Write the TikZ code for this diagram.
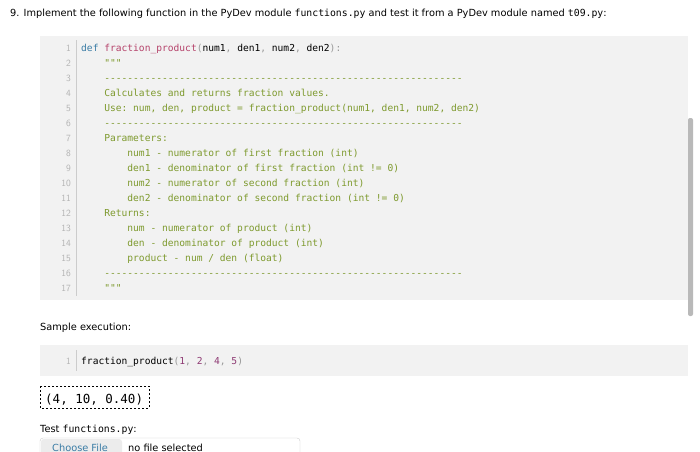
\documentclass[tikz,border=0pt]{standalone}
\usepackage{fontspec}
\setmainfont{DejaVu Sans}
\setmonofont{DejaVu Sans Mono}
\begin{document}
\begin{tikzpicture}[x=1pt,y=-1pt,
  code/.style={anchor=base west,inner sep=0,font=\ttfamily\fontsize{9.6}{11}\selectfont},
  lno/.style={anchor=base east,inner sep=0,text=gray!60,font=\sffamily\fontsize{9.5}{10}\selectfont},
  txt/.style={anchor=base west,inner sep=0,font=\fontsize{9.8}{11}\selectfont}]
\definecolor{kw}{HTML}{3A7CA5}
\definecolor{fn}{HTML}{B5426A}
\definecolor{doc}{HTML}{7E9A2E}
\definecolor{numc}{HTML}{8E3A73}
\definecolor{pun}{HTML}{999999}
\useasboundingbox (0,0) rectangle (700,451);
\fill[white] (0,0) rectangle (700,451);
\node[txt] (title) at (10,16) {9. Implement the following function in the PyDev module \texttt{functions.py} and test it from a PyDev module named \texttt{t09.py}:};
\fill[gray!10] (40,36) rectangle (688,300);
\draw[gray!40,line width=1pt] (76,40) -- (76,296);
\foreach \i in {1,...,17} \node[lno] at (71,{47+15*(\i-1)+4}) {\i};
\def\L#1#2{\node[code] at (81,{47+15*(#1-1)+4}) {#2};}
\def\D{--------------------------------------------------------------}
\L{1}{\textcolor{kw}{def} \textcolor{fn}{fraction\_product}\textcolor{pun}{(}num1\textcolor{pun}{,} den1\textcolor{pun}{,} num2\textcolor{pun}{,} den2\textcolor{pun}{):}}
\color{doc}
\L{2}{\ \ \ \ """}
\L{3}{\ \ \ \ \D}
\L{4}{\ \ \ \ Calculates and returns fraction values.}
\L{5}{\ \ \ \ Use: num, den, product = fraction\_product(num1, den1, num2, den2)}
\L{6}{\ \ \ \ \D}
\L{7}{\ \ \ \ Parameters:}
\L{8}{\ \ \ \ \ \ \ \ num1 - numerator of first fraction (int)}
\L{9}{\ \ \ \ \ \ \ \ den1 - denominator of first fraction (int != 0)}
\L{10}{\ \ \ \ \ \ \ \ num2 - numerator of second fraction (int)}
\L{11}{\ \ \ \ \ \ \ \ den2 - denominator of second fraction (int != 0)}
\L{12}{\ \ \ \ Returns:}
\L{13}{\ \ \ \ \ \ \ \ num - numerator of product (int)}
\L{14}{\ \ \ \ \ \ \ \ den - denominator of product (int)}
\L{15}{\ \ \ \ \ \ \ \ product - num / den (float)}
\L{16}{\ \ \ \ \D}
\L{17}{\ \ \ \ """}
\color{black}
\fill[gray!55,rounded corners=2pt] (688,118) rectangle (693,316);
\node[txt] (sample) at (40,330) {Sample execution:};
\fill[gray!10] (40,345) rectangle (688,376);
\draw[gray!40,line width=1pt] (76,350) -- (76,371);
\node[lno] at (71,364) {1};
\node[code] (call) at (81,364) {fraction\_product\textcolor{pun}{(}\textcolor{numc}{1}\textcolor{pun}{,} \textcolor{numc}{2}\textcolor{pun}{,} \textcolor{numc}{4}\textcolor{pun}{,} \textcolor{numc}{5}\textcolor{pun}{)}};
\draw[line width=0.9pt,dash pattern=on 2pt off 2pt] (40,386) rectangle (149,408);
\node[anchor=base west,inner sep=0,font=\ttfamily\fontsize{12.5}{14}\selectfont] (out) at (45,403) {(4, 10, 0.40)};
\node[txt] (test) at (40,432) {Test \texttt{functions.py}:};
\draw[gray!40,fill=white,rounded corners=3pt] (40,438) rectangle (300,460);
\fill[gray!15,rounded corners=3pt] (41,439) rectangle (122,460);
\node[txt,text=kw] (choose) at (52,451) {Choose File};
\node[txt] (nofile) at (128,451) {no file selected};
\end{tikzpicture}
\end{document}
